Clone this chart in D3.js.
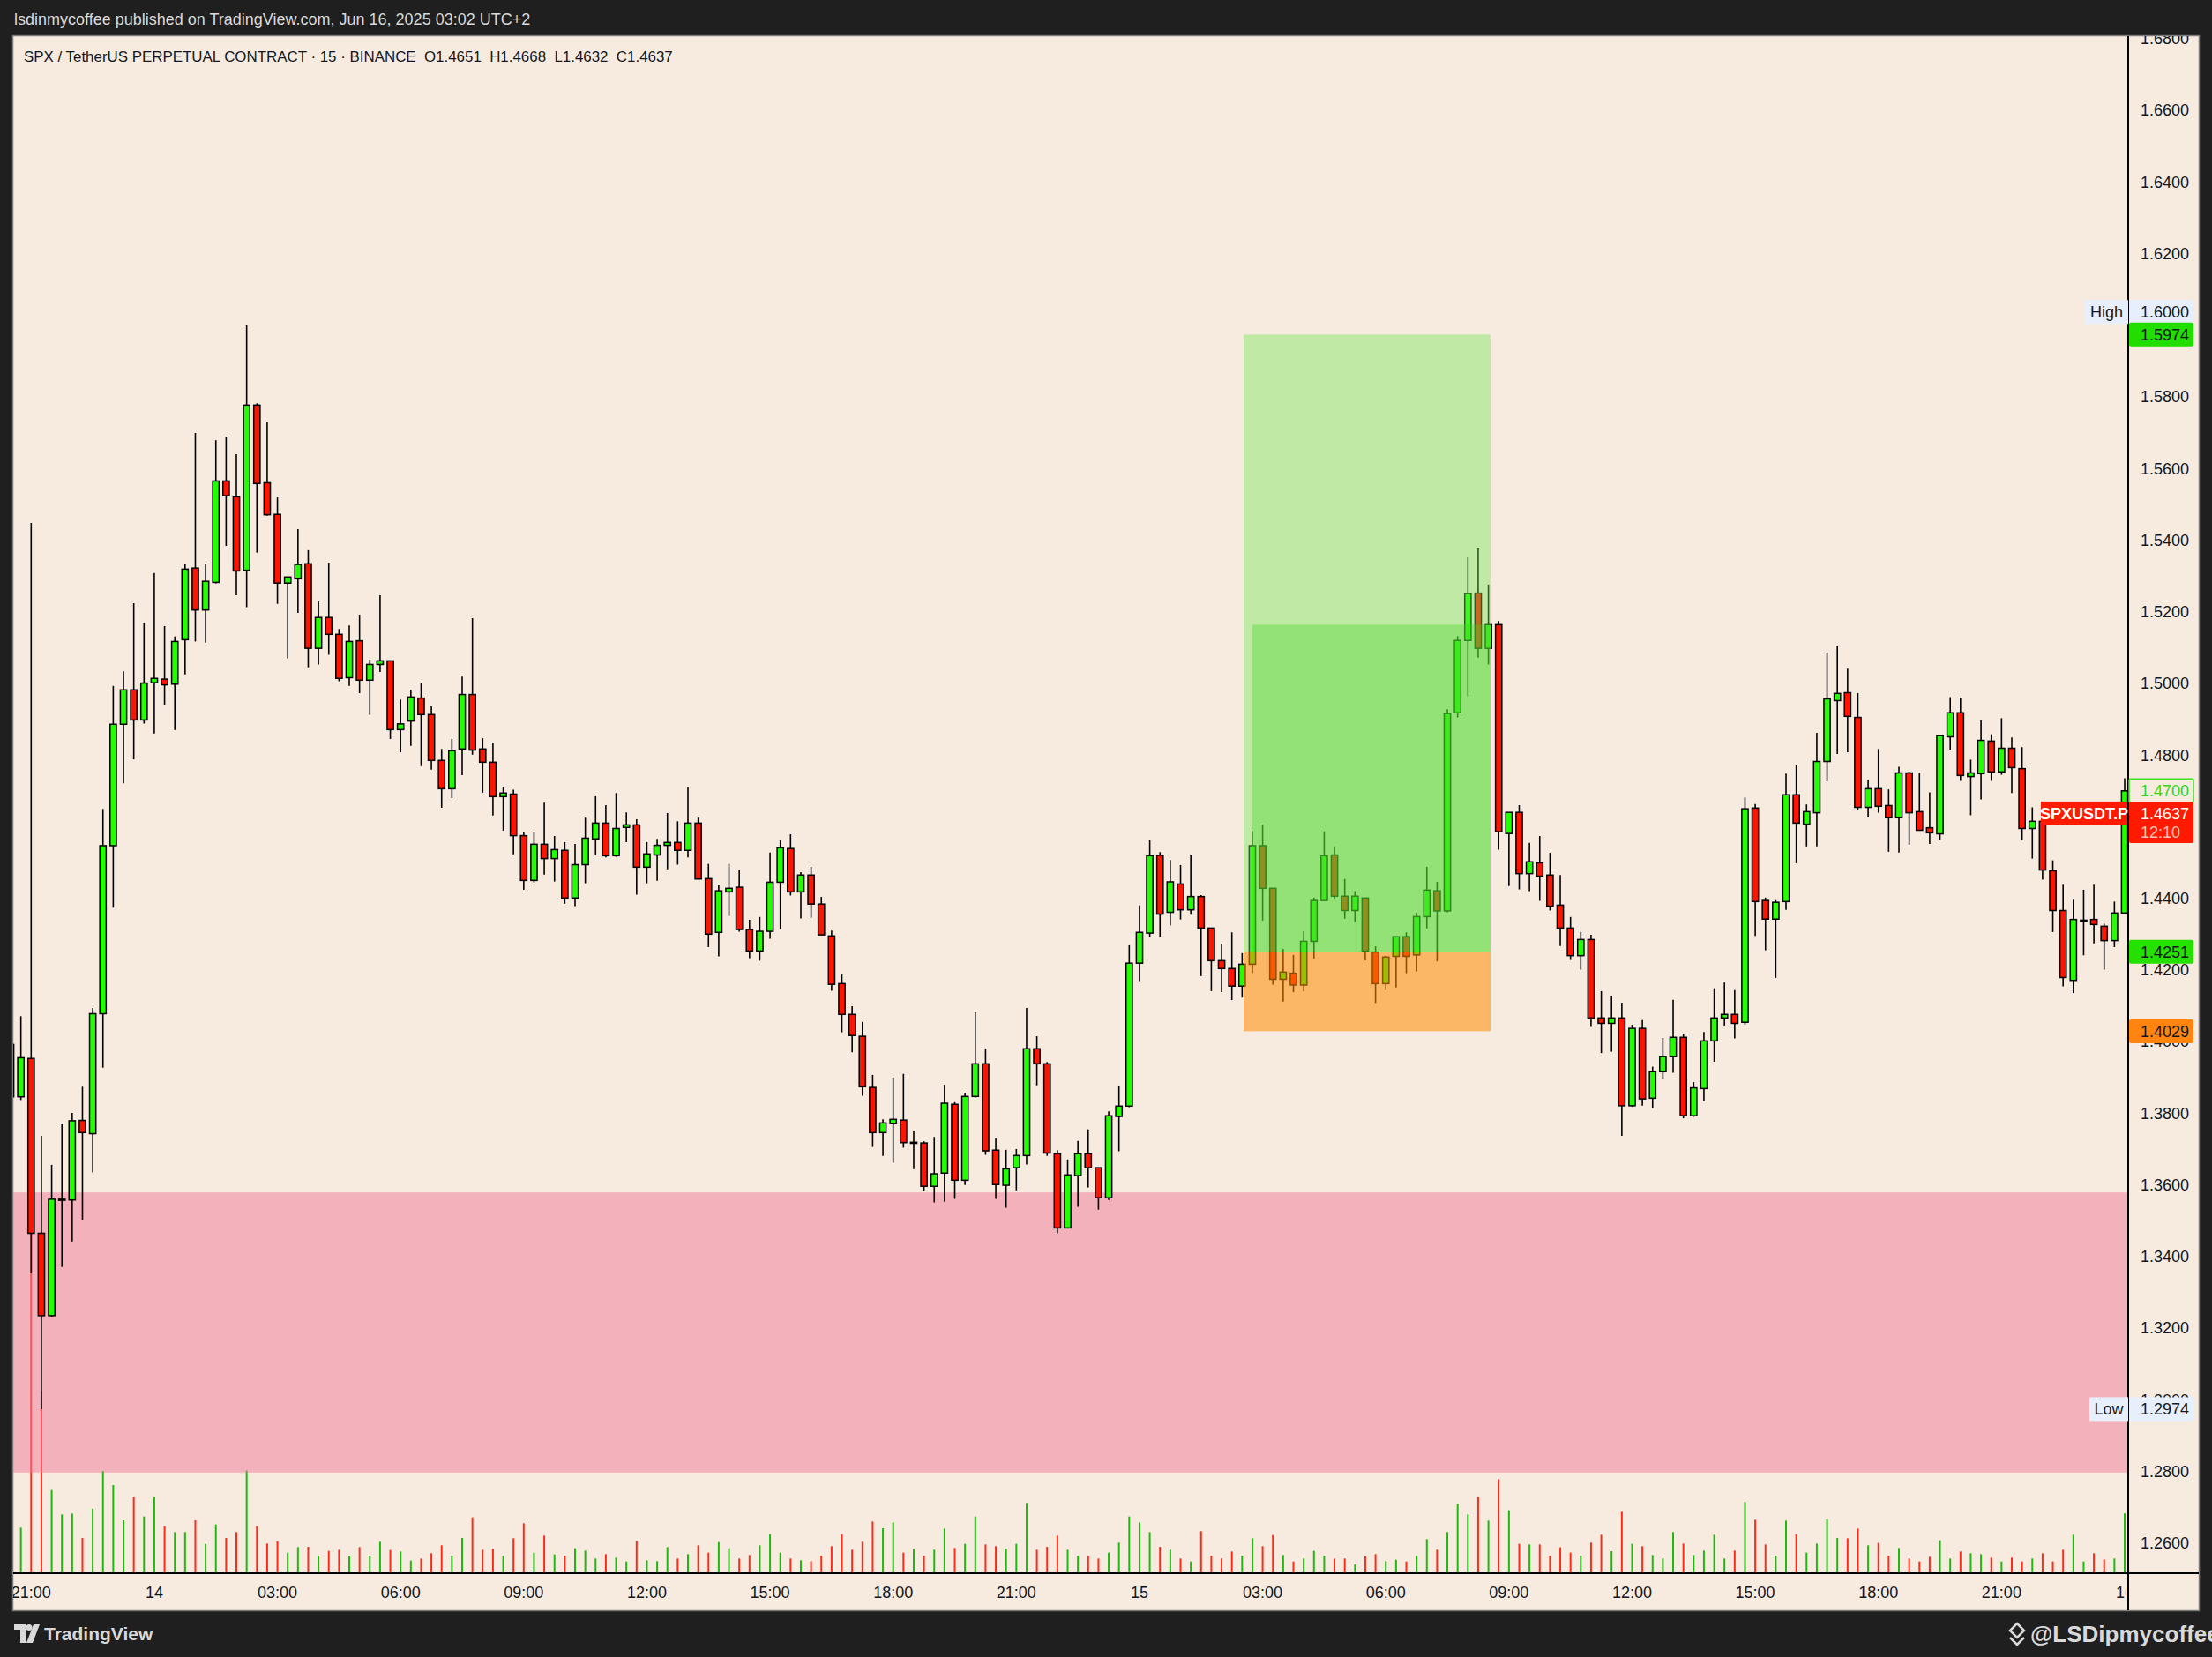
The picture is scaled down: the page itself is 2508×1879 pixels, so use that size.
<!DOCTYPE html>
<html>
<head>
<meta charset="utf-8">
<script src="https://cdn.jsdelivr.net/npm/d3@7"></script>
<style>
html, body { margin: 0; padding: 0; background: #1f1f1f; overflow: hidden; }
svg { display: block; }
</style>
</head>
<body>
<script>
var w = 2508;
var h = 1879;

// 15 minute candles, SPXUSDT.P, first bar 13 Jun 20:30
var opens = [1.3992,1.3846,1.3953,1.3465,1.3235,1.3560,1.3558,1.3780,1.3743,1.4078,1.4547,1.4886,1.4982,1.4898,1.5002,1.5012,1.4998,1.5122,1.5322,1.5205,
  1.5282,1.5565,1.5521,1.5316,1.5777,1.5560,1.5472,1.5280,1.5292,1.5334,1.5098,1.5184,1.5137,1.5016,1.5119,1.5009,1.5053,1.5063,1.4871,1.4895,
  1.4959,1.4913,1.4785,1.4706,1.4817,1.4969,1.4817,1.4780,1.4684,1.4691,1.4575,1.4450,1.4551,1.4511,1.4534,1.4401,1.4494,1.4566,1.4610,1.4519,
  1.4598,1.4605,1.4487,1.4521,1.4548,1.4556,1.4534,1.4610,1.4455,1.4305,1.4418,1.4431,1.4313,1.4253,1.4308,1.4445,1.4539,1.4418,1.4465,1.4384,
  1.4295,1.4162,1.4076,1.4015,1.3872,1.3746,1.3771,1.3781,1.3719,1.3717,1.3596,1.3633,1.3825,1.3613,1.3847,1.3938,1.3697,1.3599,1.3648,1.3682,
  1.3980,1.3938,1.3687,1.3480,1.3626,1.3687,1.3648,1.3564,1.3791,1.3820,1.4219,1.4303,1.4520,1.4361,1.4440,1.4368,1.4405,1.4317,1.4226,1.4204,
  1.4155,1.4216,1.4547,1.4428,1.4174,1.4191,1.4158,1.4280,1.4394,1.4521,1.4406,1.4366,1.4401,1.4250,1.4162,1.4238,1.4293,1.4242,1.4349,1.4421,
  1.4365,1.4918,1.5120,1.5252,1.5098,1.5164,1.4581,1.4640,1.4469,1.4499,1.4465,1.4381,1.4317,1.4240,1.4285,1.4066,1.4051,1.4066,1.3821,1.4037,
  1.3842,1.3916,1.3958,1.4012,1.3793,1.3869,1.4002,1.4066,1.4076,1.4054,1.4652,1.4394,1.4342,1.4391,1.4689,1.4607,1.4639,1.4782,1.4952,1.4974,
  1.4905,1.4654,1.4706,1.4659,1.4625,1.4750,1.4642,1.4597,1.4580,1.4851,1.4918,1.4740,1.4748,1.4839,1.4753,1.4819,1.4762,1.4595,1.4615,1.4477,
  1.4366,1.4171,1.4339,1.4341,1.4322,1.4282,1.4359,1.4651];
var highs = [1.4030,1.4071,1.5448,1.3737,1.3656,1.3769,1.3801,1.3874,1.4094,1.4650,1.4993,1.5034,1.5224,1.5169,1.5308,1.5160,1.5131,1.5332,1.5699,1.5335,
  1.5679,1.5689,1.5640,1.6000,1.5782,1.5729,1.5519,1.5297,1.5431,1.5372,1.5229,1.5337,1.5152,1.5162,1.5192,1.5066,1.5246,1.5063,1.4955,1.4982,
  1.5000,1.4936,1.4817,1.4845,1.5019,1.5182,1.4847,1.4835,1.4712,1.4703,1.4584,1.4586,1.4667,1.4574,1.4557,1.4552,1.4625,1.4685,1.4660,1.4694,
  1.4640,1.4621,1.4557,1.4566,1.4638,1.4615,1.4712,1.4625,1.4496,1.4436,1.4496,1.4478,1.4340,1.4348,1.4528,1.4562,1.4579,1.4473,1.4488,1.4404,
  1.4310,1.4188,1.4099,1.4055,1.3907,1.3783,1.3900,1.3910,1.3749,1.3722,1.3734,1.3880,1.3831,1.3857,1.4082,1.3981,1.3730,1.3698,1.3700,1.4094,
  1.4015,1.3943,1.3697,1.3671,1.3723,1.3755,1.3648,1.3805,1.3875,1.4269,1.4380,1.4562,1.4529,1.4507,1.4493,1.4520,1.4409,1.4317,1.4273,1.4305,
  1.4247,1.4588,1.4606,1.4428,1.4259,1.4242,1.4308,1.4402,1.4587,1.4545,1.4454,1.4420,1.4401,1.4266,1.4240,1.4293,1.4305,1.4359,1.4488,1.4446,
  1.4928,1.5132,1.5352,1.5379,1.5276,1.5174,1.4640,1.4660,1.4555,1.4574,1.4527,1.4465,1.4348,1.4306,1.4298,1.4141,1.4128,1.4109,1.4047,1.4060,
  1.3930,1.4010,1.4117,1.4022,1.3887,1.4027,1.4149,1.4165,1.4144,1.4682,1.4663,1.4402,1.4395,1.4748,1.4771,1.4662,1.4862,1.5086,1.5103,1.5041,
  1.4973,1.4731,1.4817,1.4704,1.4767,1.4753,1.4750,1.4696,1.4854,1.4962,1.4959,1.4787,1.4898,1.4858,1.4903,1.4849,1.4822,1.4654,1.4640,1.4506,
  1.4438,1.4396,1.4424,1.4438,1.4329,1.4391,1.4735,1.4668];
var lows = [1.3830,1.3837,1.3353,1.2974,1.3232,1.3371,1.3442,1.3502,1.3635,1.3927,1.4374,1.4721,1.4788,1.4888,1.4860,1.4939,1.4870,1.5025,1.5117,1.5114,
  1.5279,1.5384,1.5246,1.5213,1.5365,1.5468,1.5222,1.5070,1.5197,1.5045,1.5053,1.5080,1.5006,1.4993,1.4973,1.4912,1.5032,1.4845,1.4808,1.4826,
  1.4769,1.4759,1.4653,1.4680,1.4744,1.4801,1.4695,1.4631,1.4589,1.4523,1.4424,1.4444,1.4466,1.4447,1.4385,1.4378,1.4442,1.4520,1.4514,1.4516,
  1.4557,1.4410,1.4442,1.4449,1.4481,1.4494,1.4514,1.4454,1.4264,1.4238,1.4351,1.4307,1.4233,1.4226,1.4287,1.4314,1.4408,1.4344,1.4346,1.4298,
  1.4142,1.4026,1.3970,1.3849,1.3706,1.3681,1.3662,1.3704,1.3644,1.3583,1.3551,1.3553,1.3561,1.3600,1.3844,1.3684,1.3561,1.3536,1.3585,1.3657,
  1.3878,1.3681,1.3465,1.3480,1.3539,1.3593,1.3531,1.3558,1.3694,1.3817,1.4169,1.4292,1.4293,1.4324,1.4341,1.4354,1.4183,1.4141,1.4138,1.4116,
  1.4123,1.4191,1.4338,1.4159,1.4112,1.4138,1.4140,1.4232,1.4394,1.4398,1.4343,1.4334,1.4227,1.4108,1.4144,1.4151,1.4191,1.4196,1.4316,1.4224,
  1.4361,1.4905,1.4964,1.5072,1.5053,1.4536,1.4434,1.4425,1.4420,1.4393,1.4366,1.4267,1.4228,1.4201,1.4041,1.3968,1.3972,1.3737,1.3818,1.3821,
  1.3815,1.3896,1.3913,1.3786,1.3790,1.3834,1.3944,1.4045,1.4009,1.4048,1.4295,1.4255,1.4178,1.4368,1.4498,1.4545,1.4545,1.4727,1.4803,1.4808,
  1.4646,1.4626,1.4639,1.4530,1.4528,1.4550,1.4590,1.4552,1.4562,1.4813,1.4728,1.4632,1.4676,1.4728,1.4745,1.4694,1.4563,1.4511,1.4452,1.4306,
  1.4154,1.4136,1.4241,1.4274,1.4201,1.4264,1.4355,1.4632];
var closes = [1.3846,1.3955,1.3465,1.3235,1.3560,1.3560,1.3779,1.3746,1.4078,1.4547,1.4886,1.4982,1.4898,1.5001,1.5014,1.4996,1.5117,1.5319,1.5205,1.5285,
  1.5565,1.5524,1.5314,1.5777,1.5558,1.5471,1.5280,1.5297,1.5332,1.5098,1.5184,1.5137,1.5014,1.5117,1.5009,1.5053,1.5063,1.4871,1.4887,1.4962,
  1.4913,1.4785,1.4706,1.4812,1.4969,1.4814,1.4780,1.4684,1.4694,1.4575,1.4450,1.4551,1.4511,1.4536,1.4401,1.4494,1.4568,1.4610,1.4519,1.4595,
  1.4605,1.4487,1.4524,1.4548,1.4556,1.4534,1.4610,1.4454,1.4300,1.4421,1.4428,1.4313,1.4253,1.4308,1.4445,1.4541,1.4418,1.4465,1.4384,1.4298,
  1.4160,1.4076,1.4017,1.3874,1.3746,1.3773,1.3783,1.3718,1.3719,1.3596,1.3631,1.3828,1.3613,1.3847,1.3938,1.3695,1.3601,1.3645,1.3682,1.3980,
  1.3938,1.3689,1.3480,1.3628,1.3687,1.3648,1.3564,1.3793,1.3820,1.4219,1.4305,1.4519,1.4356,1.4446,1.4368,1.4405,1.4317,1.4226,1.4204,1.4155,
  1.4216,1.4547,1.4428,1.4174,1.4194,1.4158,1.4280,1.4394,1.4519,1.4406,1.4366,1.4406,1.4253,1.4162,1.4236,1.4293,1.4238,1.4349,1.4423,1.4365,
  1.4916,1.5120,1.5251,1.5098,1.5164,1.4586,1.4640,1.4469,1.4502,1.4462,1.4378,1.4317,1.4240,1.4285,1.4066,1.4051,1.4066,1.3821,1.4037,1.3840,
  1.3916,1.3958,1.4012,1.3793,1.3871,1.4002,1.4066,1.4076,1.4051,1.4650,1.4391,1.4342,1.4389,1.4689,1.4610,1.4642,1.4782,1.4957,1.4972,1.4908,
  1.4654,1.4706,1.4657,1.4625,1.4750,1.4639,1.4590,1.4583,1.4854,1.4918,1.4743,1.4750,1.4841,1.4753,1.4819,1.4765,1.4595,1.4615,1.4479,1.4366,
  1.4179,1.4341,1.4339,1.4327,1.4282,1.4359,1.4700,1.4637];
var volumes = [10,15.5,118,62,28.3,20,20.3,12,22,34.8,30,18,26,19.3,26,16,14,14,18,10,
  16.6,12,14,35,16,10.1,10.9,7,8.9,9,6,7.6,8,6,8.9,6,10.7,7.9,7.4,4.3,
  5,6.8,9.5,6,12,19,8,8.3,5.9,11.9,17,7,12.8,6.4,6,8.5,7.7,5,6.5,5.3,
  4,11,4.4,4.1,8.9,5,6.5,9.5,7,10.6,8.5,5,6.2,9.5,13.3,7,5,4.4,4.1,6,
  9.2,13.3,8,10.7,17.6,15.3,17.3,7,8.3,6,8,15.2,8.6,10,19.3,9.8,9.2,8.3,10,23.9,
  8,9,12.8,8,6,5.9,5,7,10.4,19.3,17.3,14,9,8,5,4,14.3,6,5,7.4,
  6,11.9,9.2,13,6.2,4,5,7.6,6,5,5,3,5.8,6.5,4.1,4.6,4,5.9,11.6,8,
  14,23.6,20,26,17.9,32,21.4,10,9.8,9.8,6,8.8,7,6,10.4,13.1,7.5,20.9,10,9.2,
  6.2,5,14,10.1,6.2,7.7,13.1,5,7.7,24.2,18.2,9.8,6,17.9,13.3,7,10.1,18.4,12,11.9,
  15.2,9.5,10.3,6,8.6,5,4,5.6,11.2,5,7.4,6.8,6.5,5.3,4,5.3,4,5,6.8,4,
  8,13.1,4,6.8,4.7,5,20.3,3];

// 1.6000 is shown by the "High" label, so it is left out of the plain ticks
var priceTicks = [1.26,1.28,1.30,1.32,1.34,1.36,1.38,1.40,1.42,1.44,1.46,1.48,1.50,1.52,1.54,1.56,1.58,1.62,1.64,1.66,1.68];

// drawings on the chart
var zoneTop = 1.3579, zoneBottom = 1.2797;
var entryPrice = 1.4251, targetPrice = 1.5974, stopPrice = 1.4029;
var entryBar = 120, fillBar = 121, exitBar = 144;
var highPrice = 1.6000, lowPrice = 1.2974, lastPrice = 1.4637, markPrice = 1.4700;

var t0 = Date.UTC(2025, 5, 13, 20, 30);
var times = opens.map(function(d, i) { return new Date(t0 + i * 15 * 60000); });

var pLeft = 15, pRight = 2413, pTop = 41, volBase = 1784, pBottom = 1826, pEdge = 2493;

var x = d3.scaleUtc()
  .domain([new Date(Date.UTC(2025, 5, 13, 21)), new Date(Date.UTC(2025, 5, 16, 0))])
  .range([35.3, 2409]);
var y = d3.scaleLinear().domain([1.58, 1.28]).range([450, 1668.6]);
var yVol = d3.scaleLinear().domain([0, 100]).range([volBase, volBase - 333.3]);

var green = "#22ff00", red = "#ff1400";
var font = "'Liberation Sans', Arial, sans-serif";

var svg = d3.select("body").append("svg")
  .attr("width", w)
  .attr("height", h)
  .style("font-family", font);

var defs = svg.append("defs");
defs.append("clipPath").attr("id", "plot")
  .append("rect").attr("x", pLeft).attr("y", pTop).attr("width", pRight - pLeft).attr("height", volBase - pTop);
defs.append("clipPath").attr("id", "panel")
  .append("rect").attr("x", pLeft).attr("y", pTop).attr("width", pEdge - pLeft).attr("height", pBottom - pTop);
defs.append("clipPath").attr("id", "timeaxis")
  .append("rect").attr("x", pLeft).attr("y", volBase).attr("width", pRight - 2 - pLeft).attr("height", pBottom - volBase);

svg.append("rect").attr("width", w).attr("height", h).attr("fill", "#1f1f1f");

// chart panel
svg.append("rect")
  .attr("x", pLeft - 0.5).attr("y", pTop - 0.5)
  .attr("width", pEdge - pLeft + 1).attr("height", pBottom - pTop + 1)
  .attr("fill", "#f7ebe0")
  .attr("stroke", "#7a7a7a")
  .attr("stroke-width", 1.5);

var plot = svg.append("g").attr("clip-path", "url(#plot)");

// volume histogram
plot.selectAll("line.vol")
  .data(volumes)
  .enter()
  .append("line")
  .attr("class", "vol")
  .attr("x1", function(d, i) { return x(times[i]); })
  .attr("x2", function(d, i) { return x(times[i]); })
  .attr("y1", yVol(0))
  .attr("y2", function(d) { return yVol(d); })
  .style("stroke", function(d, i) { return closes[i] >= opens[i] ? "#1fb80f" : "#ff2a1a"; })
  .style("stroke-width", 2);

// demand zone
plot.append("rect")
  .attr("x", pLeft).attr("width", pRight - pLeft)
  .attr("y", y(zoneTop))
  .attr("height", y(zoneBottom) - y(zoneTop))
  .attr("fill", "rgb(240,120,152)")
  .attr("fill-opacity", 0.5);

// candles
var candles = plot.selectAll("g.candle")
  .data(opens)
  .enter()
  .append("g")
  .attr("class", "candle");

candles.append("line")
  .attr("x1", function(d, i) { return x(times[i]); })
  .attr("x2", function(d, i) { return x(times[i]); })
  .attr("y1", function(d, i) { return y(highs[i]); })
  .attr("y2", function(d, i) { return y(lows[i]); })
  .style("stroke", "#000")
  .style("stroke-width", 1.6);

candles.append("rect")
  .attr("x", function(d, i) { return x(times[i]) - 3.6; })
  .attr("width", 7.2)
  .attr("y", function(d, i) { return y(Math.max(opens[i], closes[i])); })
  .attr("height", function(d, i) { return Math.max(1.2, Math.abs(y(opens[i]) - y(closes[i]))); })
  .style("fill", function(d, i) { return closes[i] >= opens[i] ? green : red; })
  .style("stroke", "#000")
  .style("stroke-width", 1.5);

// long position tool
var px0 = x(times[entryBar]) + 1.7, px1 = x(times[exitBar]) + 2.4;
plot.append("rect")
  .attr("x", px0).attr("width", px1 - px0)
  .attr("y", y(targetPrice)).attr("height", y(entryPrice) - y(targetPrice))
  .attr("fill", "rgb(110,230,80)").attr("fill-opacity", 0.4);
plot.append("rect")
  .attr("x", x(times[fillBar])).attr("width", px1 - x(times[fillBar]))
  .attr("y", y(closes[exitBar])).attr("height", y(entryPrice) - y(closes[exitBar]))
  .attr("fill", "rgb(60,215,30)").attr("fill-opacity", 0.35);
plot.append("rect")
  .attr("x", px0).attr("width", px1 - px0)
  .attr("y", y(entryPrice)).attr("height", y(stopPrice) - y(entryPrice))
  .attr("fill", "rgb(255,140,0)").attr("fill-opacity", 0.55);

// axes lines
svg.append("line")
  .attr("x1", pLeft).attr("x2", pEdge).attr("y1", volBase).attr("y2", volBase)
  .style("stroke", "#000").style("stroke-width", 2);
svg.append("line")
  .attr("x1", pRight).attr("x2", pRight).attr("y1", pTop).attr("y2", pBottom)
  .style("stroke", "#000").style("stroke-width", 2);

// price scale
var priceAxis = svg.append("g").attr("clip-path", "url(#panel)");
priceAxis.selectAll("text.tick")
  .data(priceTicks)
  .enter()
  .append("text")
  .attr("class", "tick")
  .attr("x", 2427)
  .attr("y", function(d) { return y(d); })
  .attr("dy", "0.35em")
  .style("font-size", "18px")
  .style("fill", "#131722")
  .text(function(d) { return d.toFixed(4); });

// time scale
var timeTicks = d3.utcHour.every(3).range(new Date(Date.UTC(2025, 5, 13, 21)), new Date(Date.UTC(2025, 5, 16, 0, 1)));
var fmtHour = d3.utcFormat("%H:%M"), fmtDay = d3.utcFormat("%-d");
svg.append("g").attr("clip-path", "url(#timeaxis)")
  .selectAll("text")
  .data(timeTicks)
  .enter()
  .append("text")
  .attr("x", function(d) { return x(d); })
  .attr("y", 1806)
  .attr("dy", "0.35em")
  .attr("text-anchor", "middle")
  .style("font-size", "18px")
  .style("fill", "#131722")
  .text(function(d) { return d.getUTCHours() === 0 ? fmtDay(d) : fmtHour(d); });

// labels on the price scale (shift moves a label off a neighbour, as the scale does)
function axisBox(price, fill, textFill, stroke, shift) {
  var cy = y(price) + (shift || 0);
  priceAxis.append("rect")
    .attr("x", pRight + 1).attr("y", cy - 13.5)
    .attr("width", 73).attr("height", 27)
    .attr("rx", 2)
    .attr("fill", fill)
    .attr("stroke", stroke || "none")
    .attr("stroke-width", 1.5);
  priceAxis.append("text")
    .attr("x", 2427).attr("y", cy).attr("dy", "0.35em")
    .style("font-size", "18px")
    .style("fill", textFill)
    .text(price.toFixed(4));
}
function sideBox(price, x0, x1, fill, textFill, label, shift, weight) {
  var cy = y(price) + (shift || 0);
  svg.append("rect")
    .attr("x", x0).attr("y", cy - 13.5)
    .attr("width", x1 - x0).attr("height", 27)
    .attr("fill", fill);
  svg.append("text")
    .attr("x", (x0 + x1) / 2).attr("y", cy).attr("dy", "0.35em")
    .attr("text-anchor", "middle")
    .style("font-size", "18px")
    .style("font-weight", weight || "normal")
    .style("fill", textFill)
    .text(label);
}

sideBox(highPrice, 2364, pRight, "#e6effb", "#131722", "High", -15);
axisBox(highPrice, "#e6effb", "#131722", null, -15);
axisBox(targetPrice, "#22dd00", "#131722");
sideBox(lowPrice, 2369, pRight, "#e6effb", "#131722", "Low");
axisBox(lowPrice, "#e6effb", "#131722");
axisBox(entryPrice, "#25e000", "#131722");
axisBox(stopPrice, "#ff8410", "#131722");
axisBox(markPrice, "#f7ebe0", "#2ed81a", "#3ade22", 0);

// last price label
var ly = y(lastPrice);
priceAxis.append("rect")
  .attr("x", pRight + 1).attr("y", ly - 13.5)
  .attr("width", 73).attr("height", 47).attr("rx", 2)
  .attr("fill", "#ff1a00");
priceAxis.append("text")
  .attr("x", 2427).attr("y", ly).attr("dy", "0.35em")
  .style("font-size", "18px").style("fill", "#fff")
  .text(lastPrice.toFixed(4));
priceAxis.append("text")
  .attr("x", 2427).attr("y", ly + 21).attr("dy", "0.35em")
  .style("font-size", "18px").style("fill", "#ffc4b8")
  .text("12:10");
sideBox(lastPrice, 2314, pRight - 1, "#ff1a00", "#fff", "SPXUSDT.P", 0, "bold");

// header
svg.append("text")
  .attr("x", 16).attr("y", 22).attr("dy", "0.35em")
  .style("font-size", "18px").style("fill", "#d9d9d9")
  .text("lsdinmycoffee published on TradingView.com, Jun 16, 2025 03:02 UTC+2");

var last = opens.length - 1;
svg.append("text")
  .attr("x", 27).attr("y", 64).attr("dy", "0.35em")
  .style("font-size", "16.9px").style("fill", "#131722")
  .style("white-space", "pre")
  .attr("xml:space", "preserve")
  .text("SPX / TetherUS PERPETUAL CONTRACT \u00b7 15 \u00b7 BINANCE  O" + opens[last].toFixed(4) +
        "  H" + highs[last].toFixed(4) + "  L" + lows[last].toFixed(4) + "  C" + closes[last].toFixed(4));

// footer
var logo = svg.append("g").attr("transform", "translate(16,1842)").style("fill", "#d9d9d9");
logo.append("path").attr("d", "M0,0 H13 V21 H7 V6 H0 Z");
logo.append("circle").attr("cx", 17).attr("cy", 3.5).attr("r", 3.5);
logo.append("path").attr("d", "M22,0 H29 L21,21 H14 Z");
svg.append("text")
  .attr("x", 50).attr("y", 1853).attr("dy", "0.35em")
  .style("font-size", "21px").style("font-weight", "bold").style("fill", "#d9d9d9")
  .text("TradingView");

var badge = svg.append("g").attr("transform", "translate(2287,1853)")
  .style("fill", "none").style("stroke", "#d9d9d9").style("stroke-width", 2.5);
badge.append("path").attr("d", "M0,-12 L8,-4 L0,4 L-8,-4 Z");
badge.append("path").attr("d", "M-8,4 L0,12 L8,4");
svg.append("text")
  .attr("x", 2302).attr("y", 1853).attr("dy", "0.35em")
  .style("font-size", "26px").style("font-weight", "bold").style("fill", "#d9d9d9")
  .text("@LSDipmycoffee");
</script>
</body>
</html>
